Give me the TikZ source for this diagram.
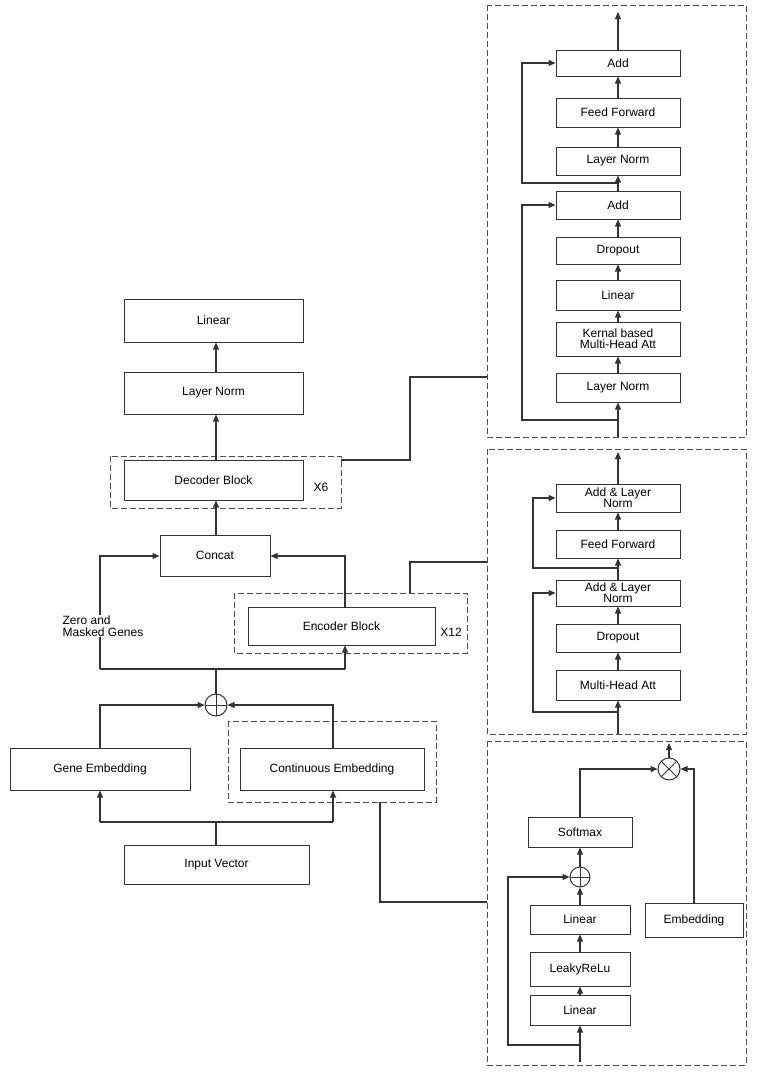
\documentclass[tikz,border=0pt]{standalone}
\usepackage{fontspec}
\setmainfont{Liberation Sans}
\usetikzlibrary{arrows.meta}
\begin{document}
\begin{tikzpicture}[x=1pt,y=-1pt,
 bx/.style={draw=black!80,line width=1pt,fill=white,inner sep=0pt,align=center,font=\fontsize{12}{12}\selectfont},
 dsh/.style={draw=black!70,dashed,line width=1pt,dash pattern=on 6pt off 3pt},
 ln/.style={draw=black!80,line width=1.2pt},
 ar/.style={ln,-{Triangle[length=7pt,width=6pt]}},
 lbl/.style={font=\fontsize{12}{12}\selectfont}]
\useasboundingbox (0,0) rectangle (757,1074);
\newcommand{\bxat}[6]{\node[bx,minimum width=#4-#2,minimum height=#5-#3] (#1) at ({(#2+#4)/2},{(#3+#5)/2}) {#6};}
% left column
\bxat{lin}{124}{299}{303}{342}{Linear}
\bxat{ln1}{124}{372}{303}{414}{Layer Norm}
\draw[dsh] (110,456) rectangle (341,508);
\coordinate (decR) at (341,460);
\bxat{dec}{124}{460}{303}{500}{Decoder Block}
\node[lbl] (x6) at (321,487) {X6};
\bxat{cat}{160}{535}{270}{576}{Concat}
\draw[dsh] (234,593) rectangle (467,653);
\bxat{enc}{248}{607}{435}{645}{Encoder Block}
\node[lbl] (x12) at (451,632) {X12};
\node[draw=black!80,line width=1pt,circle,minimum size=22pt,inner sep=0pt] (op) at (216,705) {};
\draw[black!80,line width=1pt] (205,705)--(227,705) (216,694)--(216,716);
\bxat{ge}{10}{748}{190}{790}{Gene Embedding}
\draw[dsh] (228,721) rectangle (436,802);
\bxat{ce}{240}{748}{424}{790}{Continuous Embedding}
\bxat{iv}{124}{845}{309}{884}{Input Vector}
% connectors left
\draw[ln] (iv.north -| 216,0) -- (216,822);
\draw[ln] (100,822) -- (333,822);
\draw[ar] (100,822) -- (ge.south -| 100,0);
\draw[ar] (333,822) -- (ce.south -| 333,0);
\draw[ar] (ge.north -| 100,0) -- (100,705) -- (op.west);
\draw[ar] (ce.north -| 333,0) -- (333,705) -- (op.east);
\draw[ln] (op.north) -- (216,669);
\draw[ln] (100,669) -- (345,669);
\draw[ar] (345,669) -- (enc.south -| 345,0);
\draw[ar] (100,669) -- (100,556) -- (cat.west |- 0,556);
\draw[ar] (enc.north -| 345,0) -- (345,556) -- (cat.east |- 0,556);
\draw[ar] (cat.north -| 216,0) -- (dec.south -| 216,0);
\draw[ar] (dec.north -| 216,0) -- (ln1.south -| 216,0);
\draw[ar] (ln1.north -| 216,0) -- (lin.south -| 216,0);
\node[lbl,fill=white,align=left,inner sep=1pt] (zm) at (103,626) {Zero and\\Masked Genes};
% panels
\draw[dsh] (487,5) rectangle (746,437);
\draw[dsh] (487,449) rectangle (746,734);
\draw[dsh] (487,741) rectangle (746,1065);
\draw[ln] (decR) -- (410,460) -- (410,377) -- (487,377);
\draw[ln] (410,593) -- (410,562) -- (487,562);
\draw[ln] (380,802) -- (380,902) -- (487,902);
% top panel
\bxat{a1}{556}{50}{680}{76}{Add}
\bxat{f1}{556}{98}{680}{127}{Feed Forward}
\bxat{l1}{556}{147}{680}{175}{Layer Norm}
\bxat{a2}{556}{191}{680}{219}{Add}
\bxat{d1}{556}{237}{680}{264}{Dropout}
\bxat{li1}{556}{280}{680}{310}{Linear}
\bxat{k1}{556}{322}{680}{356}{Kernal based\\[-1pt]Multi-Head Att}
\bxat{l2}{556}{373}{680}{402}{Layer Norm}
\coordinate (t0) at (618,437); \coordinate (t9) at (618,12);
\draw[ar] (t0) -- (l2.south);
\foreach \a/\b in {l2/k1,k1/li1,li1/d1,d1/a2,a2/l1,l1/f1,f1/a1,a1/t9} \draw[ar] (\a.north) -- (\b.south);
\draw[ar] (618,420) -- (522,420) -- (522,205) -- (a2.west);
\draw[ar] (618,183) -- (522,183) -- (522,63) -- (a1.west);
% middle panel
\bxat{m1}{556}{484}{680}{512}{Add \& Layer\\[-1pt]Norm}
\bxat{m2}{556}{530}{680}{558}{Feed Forward}
\bxat{m3}{556}{580}{680}{606}{Add \& Layer\\[-1pt]Norm}
\bxat{m4}{556}{624}{680}{652}{Dropout}
\bxat{m5}{556}{670}{680}{700}{Multi-Head Att}
\coordinate (m0) at (618,734); \coordinate (m9) at (618,452);
\draw[ar] (m0) -- (m5.south);
\foreach \a/\b in {m5/m4,m4/m3,m3/m2,m2/m1,m1/m9} \draw[ar] (\a.north) -- (\b.south);
\draw[ar] (618,712) -- (533,712) -- (533,593) -- (m3.west);
\draw[ar] (618,568) -- (533,568) -- (533,498) -- (m1.west);
% bottom panel
\node[draw=black!80,line width=1pt,circle,minimum size=22pt,inner sep=0pt] (ot) at (669,769) {};
\draw[black!80,line width=1pt] (661.2,761.2)--(676.8,776.8) (661.2,776.8)--(676.8,761.2);
\coordinate (b9) at (669,743);
\bxat{sm}{528}{817}{632}{847}{Softmax}
\node[draw=black!80,line width=1pt,circle,minimum size=20pt,inner sep=0pt] (op2) at (580,877) {};
\draw[black!80,line width=1pt] (570,877)--(590,877) (580,867)--(580,887);
\bxat{bl1}{530}{905}{630}{934}{Linear}
\bxat{lr}{530}{952}{630}{986}{LeakyReLu}
\bxat{bl2}{530}{995}{630}{1025}{Linear}
\bxat{em}{645}{903}{743}{937}{Embedding}
\coordinate (b0) at (580,1062);
\draw[ar] (b0) -- (bl2.south);
\draw[ar] (bl2.north) -- (lr.south);
\draw[ar] (lr.north) -- (bl1.south);
\draw[ar] (bl1.north) -- (op2.south);
\draw[ar] (op2.north) -- (sm.south);
\draw[ar] (sm.north) -- (580,769) -- (ot.west);
\draw[ar] (em.north -| 694,0) -- (694,769) -- (ot.east);
\draw[ar] (ot.north) -- (b9);
\draw[ar] (580,1045) -- (508,1045) -- (508,877) -- (op2.west);
\end{tikzpicture}
\end{document}
